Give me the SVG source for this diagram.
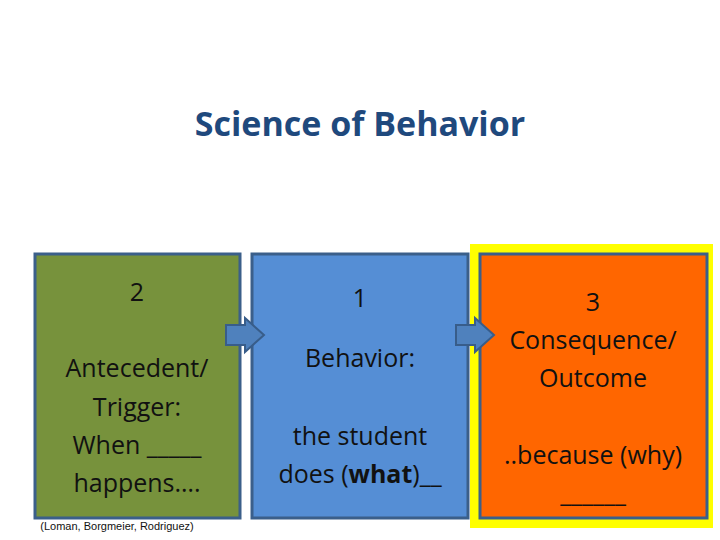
<svg xmlns="http://www.w3.org/2000/svg" width="720" height="540" viewBox="0 0 720 540">
<style>
text{font-family:"Open Sans","Liberation Sans",sans-serif;text-anchor:middle;fill:#111;font-size:25px}
.box{stroke:#3b5f8a;stroke-width:3}
.arr{fill:#4f81bd;stroke:#385d8a;stroke-width:2}
</style>
<rect width="720" height="540" fill="#fff"/>
<text x="360" y="136" style="font-size:34px;font-weight:bold;fill:#1f497d">Science of Behavior</text>
<g id="antecedent">
<rect class="box" x="35" y="254" width="205" height="264" fill="#77923c"/>
<text x="137" y="301">2</text>
<text x="137" y="377">Antecedent/</text>
<text x="137" y="416">Trigger:</text>
<text x="137" y="454">When _____</text>
<text x="137" y="492">happens….</text>
<text x="117" y="530" style="font-size:11px;font-family:'Liberation Sans',sans-serif">(Loman, Borgmeier, Rodriguez)</text>
</g>
<g id="behavior">
<rect class="box" x="252" y="254" width="216" height="264" fill="#558ed5"/>
<text x="360" y="307">1</text>
<text x="360" y="367">Behavior:</text>
<text x="360" y="445">the student</text>
<text x="360" y="483">does (<tspan font-weight="bold">what</tspan>)__</text>
</g>
<g id="consequence">
<rect x="470" y="244" width="243" height="284" fill="#ffff00"/>
<rect class="box" x="480" y="254" width="227" height="264" fill="#ff6600"/>
<text x="593" y="311">3</text>
<text x="593" y="349">Consequence/</text>
<text x="593" y="387">Outcome</text>
<text x="593" y="464">..because (why)</text>
<text x="593" y="502">______</text>
</g>
<g id="connectors">
<path class="arr" d="M226 325H245V318L264 335L245 352V345H226Z"/>
<path class="arr" d="M456 325H475V318L494 335L475 352V345H456Z"/>
</g>
</svg>
